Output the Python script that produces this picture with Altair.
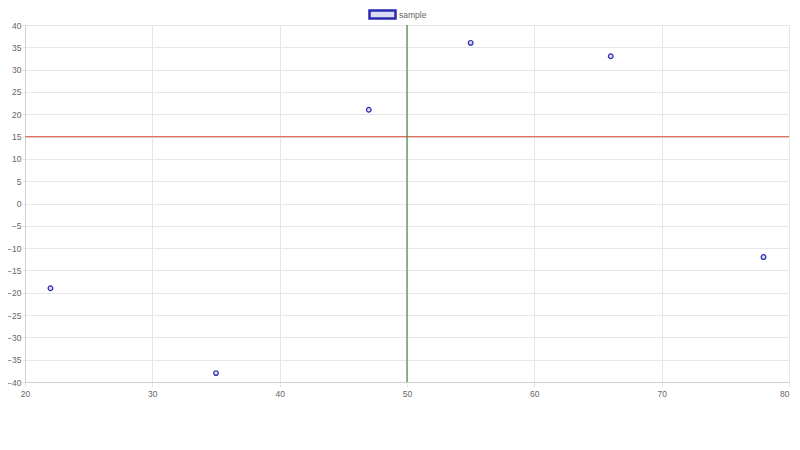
import altair as alt
import pandas as pd

x_vals = [22, 35, 47, 55, 66, 78]
y_vals = [-19, -38, 21, 36, 33, -12]
series = ["sample"] * 6
hline_y = [15]
vline_x = [50]

df = pd.DataFrame({"x": x_vals, "y": y_vals, "series": series})
hdf = pd.DataFrame({"y": hline_y})
vdf = pd.DataFrame({"x": vline_x})

xscale = alt.Scale(domain=[20, 80], nice=False, zero=False)
yscale = alt.Scale(domain=[-40, 40], nice=False, zero=False)

axis_common = dict(
    gridColor="#e6e6e6",
    domainColor="#d0d0d0",
    tickColor="#e6e6e6",
    labelColor="#666666",
    labelFont="Liberation Sans",
    labelFontSize=8.5,
    labelOverlap=False,
    labelFlush=False,
    labelBound=False,
    title=None,
)
xaxis = alt.Axis(
    values=list(range(20, 81, 10)), tickSize=5, labelPadding=2,
    labelAlign=alt.ExprRef(expr="datum.value == 80 ? 'right' : 'center'"),
    **axis_common,
)
yaxis = alt.Axis(values=list(range(-40, 41, 5)), tickSize=3, labelPadding=1, **axis_common)

points = alt.Chart(df).mark_point(
    shape="circle", size=22, strokeWidth=1.2, filled=True, fill="#dcdcf2", opacity=1
).encode(
    x=alt.X("x:Q", scale=xscale, axis=xaxis),
    y=alt.Y("y:Q", scale=yscale, axis=yaxis),
    stroke=alt.Stroke(
        "series:N",
        scale=alt.Scale(domain=["sample"], range=["#2a2ab0"]),
        legend=alt.Legend(
            title=None,
            orient="none",
            legendX=343,
            legendY=-25,
            symbolType="M-1,-0.3L1,-0.3L1,0.3L-1,0.3Z",
            symbolSize=676,
            symbolStrokeWidth=2.5,
            symbolStrokeColor="#0000c0",
            symbolFillColor="#d8d8f0",
            symbolOpacity=1,
            labelFont="Liberation Sans",
            labelFontSize=8.5,
            labelColor="#666666",
            labelOffset=2,
            padding=0,
        ),
    ),
)

hline = alt.Chart(hdf).mark_rule(color="#e0705f", strokeWidth=1.2).encode(
    y=alt.Y("y:Q", scale=yscale, axis=yaxis)
)
vline = alt.Chart(vdf).mark_rule(color="#3a8a3a", strokeWidth=1.2).encode(
    x=alt.X("x:Q", scale=xscale, axis=xaxis)
)

chart = alt.layer(points, hline, vline).properties(
    width=764,
    height=357,
    padding={"left": 17, "top": 17, "right": 3, "bottom": 40},
    autosize=alt.AutoSizeParams(type="none"),
).configure_view(stroke=None)

chart.save("out.html", embed_options={"renderer": "svg", "actions": False})
